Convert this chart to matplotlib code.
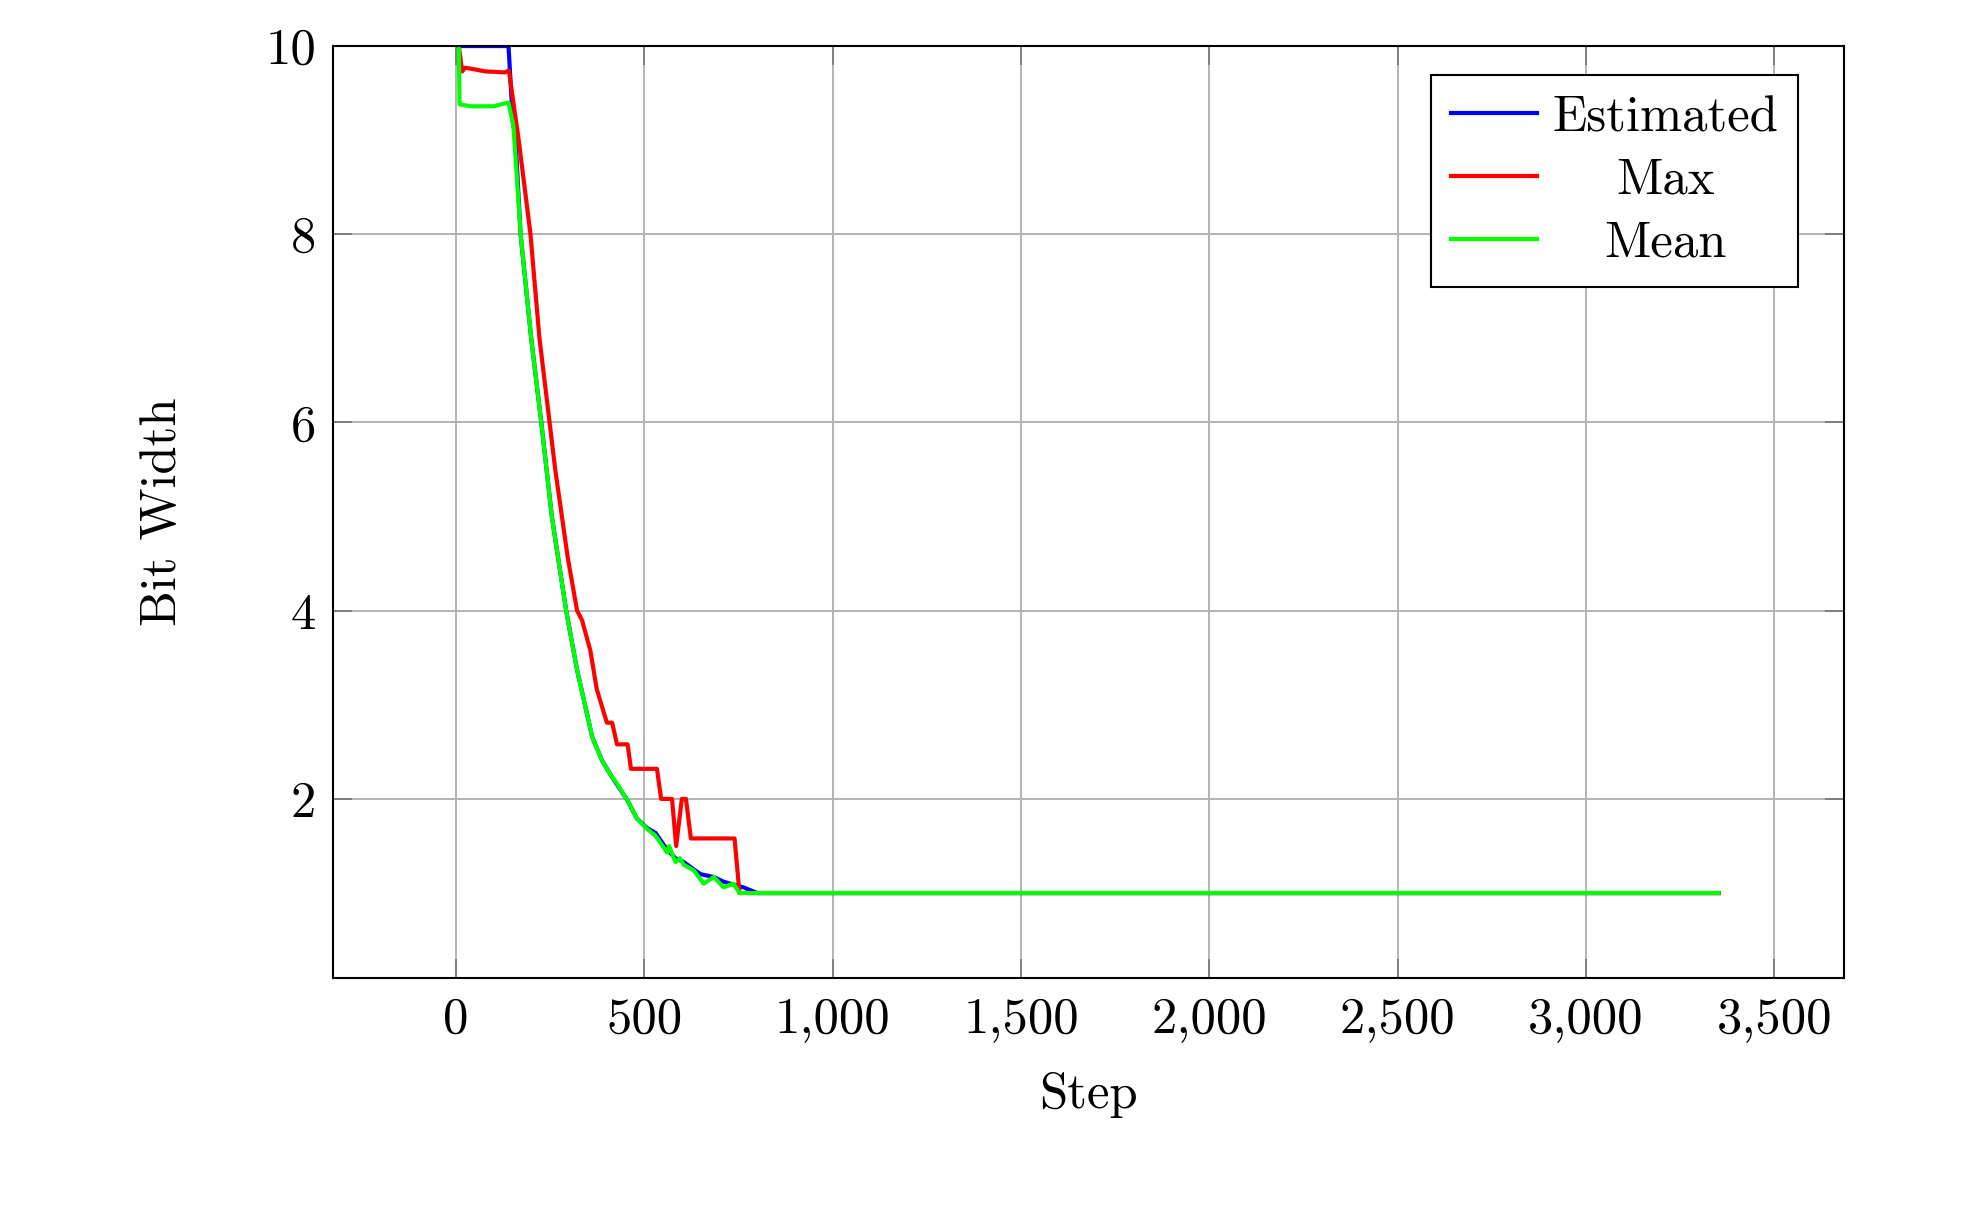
import matplotlib.pyplot as plt
from matplotlib.ticker import FuncFormatter

plt.rcParams['font.family'] = ['cmr10', 'DejaVu Serif']
plt.rcParams['axes.formatter.use_mathtext'] = True
plt.rcParams['mathtext.fontset'] = 'cm'

# Estimated
est_steps = [8, 140, 150, 160, 172, 200, 227, 255, 293, 322, 362, 388, 415, 455, 481,
             508, 530, 561, 583, 605, 632, 650, 685, 711, 737, 764, 800, 3352]
est_vals = [10, 10, 9.3, 8.9, 8.0, 6.9, 6.0, 5.0, 4.0, 3.37, 2.66, 2.41, 2.23, 1.99, 1.79,
            1.69, 1.64, 1.46, 1.37, 1.33, 1.25, 1.20, 1.17, 1.12, 1.09, 1.06, 1.0, 1.0]

# Max
max_steps = [8, 17, 25, 80, 130, 141, 167, 198, 222, 249, 264, 297, 322, 335, 357, 374, 401,
             415, 428, 456, 465, 534, 545, 574, 585, 600, 611, 624, 740, 753, 3352]
max_vals = [10, 9.73, 9.77, 9.73, 9.72, 9.74, 9.0, 8.01, 6.9, 6.0, 5.5, 4.57, 4.0, 3.9, 3.58, 3.17, 2.81,
            2.81, 2.58, 2.58, 2.32, 2.32, 2.0, 2.0, 1.5, 2.0, 2.0, 1.58, 1.58, 1.0, 1.0]

# Mean
mean_steps = [8, 10, 40, 100, 140, 153, 172, 200, 227, 255, 293, 322, 362, 388, 415, 425,
              455, 481, 508, 530, 561, 566, 583, 595, 605, 632, 658, 685, 711, 737, 753, 3352]
mean_vals = [10, 9.38, 9.36, 9.36, 9.40, 9.15, 8.01, 6.90, 6.0, 5.0, 4.0, 3.37, 2.66, 2.41, 2.23, 2.18,
             1.99, 1.79, 1.68, 1.61, 1.43, 1.50, 1.33, 1.37, 1.30, 1.24, 1.10, 1.17, 1.06, 1.10, 1.0, 1.0]

x_ticks = [0, 500, 1000, 1500, 2000, 2500, 3000, 3500]
y_ticks = [2, 4, 6, 8, 10]

fig = plt.figure(figsize=(19.68, 12.28), dpi=100)
ax = fig.add_axes([0.169, 0.2038, 0.7682, 0.7587])

lw = 3.0
ax.plot(est_steps, est_vals, color=(0, 0, 1), lw=lw, label='Estimated')
ax.plot(max_steps, max_vals, color=(1, 0, 0), lw=lw, label='Max')
ax.plot(mean_steps, mean_vals, color=(0, 1, 0), lw=lw, label='Mean')

ax.set_xlim(-327, 3686)
ax.set_ylim(0.1, 10)
ax.set_xticks(x_ticks)
ax.set_yticks(y_ticks)
ax.xaxis.set_major_formatter(FuncFormatter(lambda v, p: f'{int(v):,}'))
ax.yaxis.set_major_formatter(FuncFormatter(lambda v, p: f'{int(v)}'))
ax.grid(True, color='#b3b3b3', lw=1.4)
ax.set_axisbelow(True)
ax.tick_params(direction='in', length=14, width=1.4, color='#7f7f7f', labelsize=36.5,
               top=True, right=True)
ax.tick_params(axis='x', pad=14)
ax.tick_params(axis='y', pad=12)
for s in ax.spines.values():
    s.set_linewidth(1.5)
    s.set_color('black')

ax.set_xlabel('Step', fontsize=36.5, labelpad=21)
ax.set_ylabel('Bit Width', fontsize=36.5, labelpad=57)

leg = ax.legend(loc='upper right', bbox_to_anchor=(0.9696, 0.9689), fontsize=36.5,
                fancybox=False, framealpha=1, edgecolor='black', handlelength=1.7,
                handletextpad=0.3, labelspacing=0.33, borderpad=0.4, borderaxespad=0)
leg.get_frame().set_linewidth(1.5)

# centre legend texts like pgfplots
fig.canvas.draw()
texts = leg.get_texts()
widths = [t.get_window_extent().width for t in texts]
mw = max(widths)
for t, w in zip(texts, widths):
    t.set_position(((mw - w) / 2, 0))

fig.savefig('out.png', dpi=100)
